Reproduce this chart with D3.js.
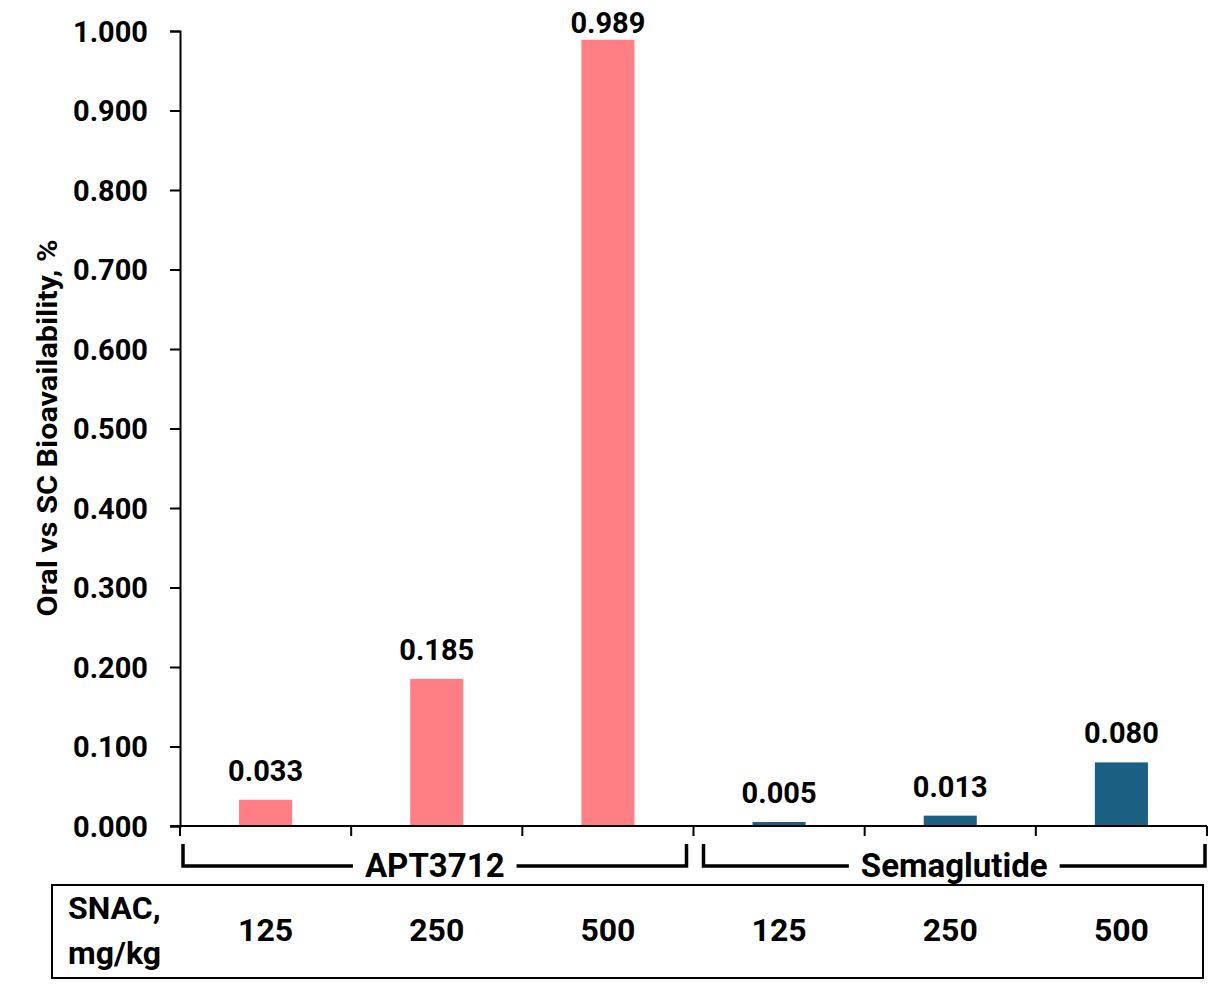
<!DOCTYPE html>
<html>
<head>
<meta charset="utf-8">
<script src="https://cdn.jsdelivr.net/npm/d3@7"></script>
<style>
  body { margin: 0; background: #fff; }
  text { font-family: Roboto, "Liberation Sans", sans-serif; font-weight: bold; fill: #000; }
</style>
</head>
<body>
<div id="chart"></div>
<script>
(function() {
  // data
  var groups = ['APT3712', 'Semaglutide'],
      doses = ['125', '250', '500'],
      aptValues = [0.033, 0.185, 0.989],
      semaValues = [0.005, 0.013, 0.080],
      yTicks = [0, 0.1, 0.2, 0.3, 0.4, 0.5, 0.6, 0.7, 0.8, 0.9, 1.0],
      colors = ['#ff7f84', '#1a6083'];

  var W = 1230, H = 997;
  var left = 180, right = 1207, top = 31, bottom = 826;

  var data = [];
  [aptValues, semaValues].forEach(function(vals, gi) {
    vals.forEach(function(v, di) {
      data.push({ key: groups[gi] + '-' + doses[di], group: gi, dose: doses[di], value: v });
    });
  });

  var svg = d3.select('#chart').append('svg')
    .attr('width', W).attr('height', H);

  var x = d3.scaleBand()
    .domain(data.map(function(d) { return d.key; }))
    .range([left, right])
    .paddingInner(0.69)
    .paddingOuter(0.345);

  var y = d3.scaleLinear().domain([0, 1]).range([bottom, top]);

  // y axis
  var yAxis = svg.append('g')
    .attr('transform', 'translate(' + left + ',0)')
    .call(d3.axisLeft(y).tickValues(yTicks).tickFormat(d3.format('.3f')).tickSizeOuter(0).tickSize(10).tickPadding(22));
  yAxis.select('.domain').attr('stroke-width', 2);
  yAxis.selectAll('.tick line').attr('stroke-width', 2);
  yAxis.selectAll('.tick text').attr('font-size', 29).attr('dy', '0.36em')
    .attr('font-family', 'Roboto').attr('font-weight', 'bold');

  // bars
  svg.selectAll('rect.bar').data(data).enter().append('rect')
    .attr('class', 'bar')
    .attr('x', function(d) { return x(d.key); })
    .attr('width', x.bandwidth())
    .attr('y', function(d) { return y(d.value); })
    .attr('height', function(d) { return bottom - y(d.value); })
    .attr('fill', function(d) { return colors[d.group]; });

  // value labels (kept inside the top of the plot)
  svg.selectAll('text.val').data(data).enter().append('text')
    .attr('class', 'val')
    .attr('x', function(d) { return x(d.key) + x.bandwidth() / 2; })
    .attr('y', function(d) { return Math.max(y(d.value) - 19, 33); })
    .attr('text-anchor', 'middle')
    .attr('font-size', 29)
    .text(function(d) { return d3.format('.3f')(d.value); });

  // x axis with ticks between categories
  var step = x.step();
  svg.append('line')
    .attr('x1', left - 10).attr('x2', right)
    .attr('y1', bottom).attr('y2', bottom)
    .attr('stroke', '#000').attr('stroke-width', 2);
  d3.range(data.length + 1).forEach(function(i) {
    svg.append('line')
      .attr('x1', left + i * step).attr('x2', left + i * step)
      .attr('y1', bottom).attr('y2', bottom + 10)
      .attr('stroke', '#000').attr('stroke-width', 2);
  });

  // y axis title
  svg.append('text')
    .attr('transform', 'translate(57,428) rotate(-90)')
    .attr('text-anchor', 'middle')
    .attr('font-size', 27)
    .attr('textLength', 377)
    .attr('lengthAdjust', 'spacingAndGlyphs')
    .text('Oral vs SC Bioavailability, %');

  // group brackets
  var bTop = 844, bY = 866;
  groups.forEach(function(g, gi) {
    var x0 = left + gi * 3 * step + (gi ? 10 : 3),
        x1 = left + (gi + 1) * 3 * step - (gi ? 2 : 7),
        cx = (x0 + x1) / 2;
    var t = svg.append('text')
      .attr('x', cx).attr('y', bY + 11)
      .attr('text-anchor', 'middle')
      .attr('font-size', 33)
      .text(g);
    var tw = t.node().getComputedTextLength();
    svg.append('path')
      .attr('d', 'M' + x0 + ',' + bTop + 'V' + bY + 'H' + (cx - tw / 2 - 12))
      .attr('fill', 'none').attr('stroke', '#000').attr('stroke-width', 3.5);
    svg.append('path')
      .attr('d', 'M' + (cx + tw / 2 + 12) + ',' + bY + 'H' + x1 + 'V' + bTop)
      .attr('fill', 'none').attr('stroke', '#000').attr('stroke-width', 3.5);
  });

  // dose table
  svg.append('rect')
    .attr('x', 52).attr('y', 885)
    .attr('width', 1151).attr('height', 93)
    .attr('fill', 'none').attr('stroke', '#000').attr('stroke-width', 2);
  svg.append('text').attr('x', 68).attr('y', 919).attr('font-size', 32).text('SNAC,');
  svg.append('text').attr('x', 68).attr('y', 964).attr('font-size', 32).text('mg/kg');
  svg.selectAll('text.dose').data(data).enter().append('text')
    .attr('class', 'dose')
    .attr('x', function(d) { return x(d.key) + x.bandwidth() / 2; })
    .attr('y', 941)
    .attr('text-anchor', 'middle')
    .attr('font-size', 32)
    .text(function(d) { return d.dose; });
})();
</script>
</body>
</html>
